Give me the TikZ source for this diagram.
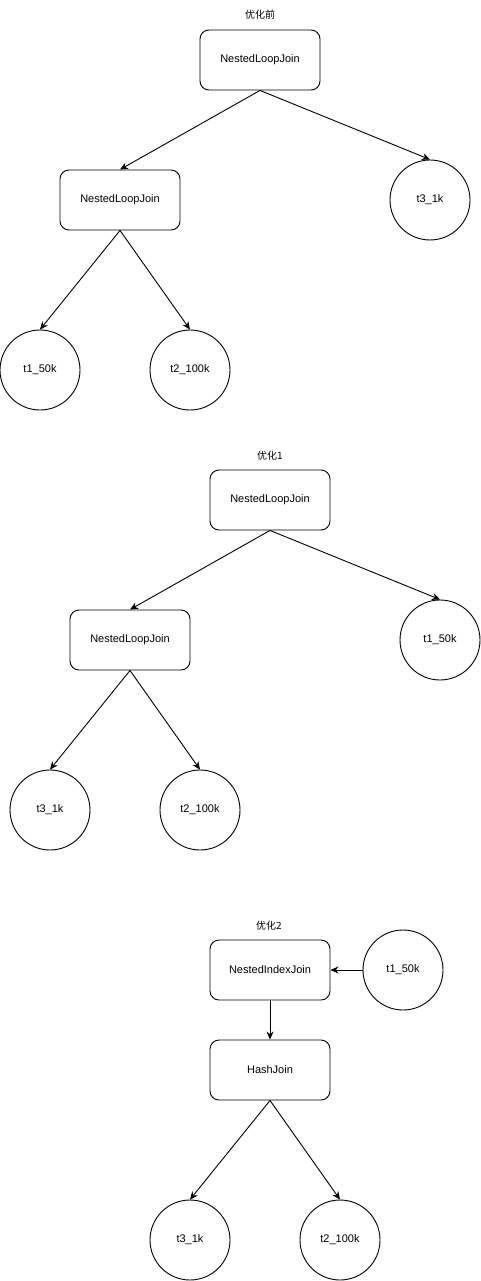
\documentclass[tikz,border=0pt]{standalone}
\usepackage{fontspec}
\setmainfont{Liberation Sans}
\newfontfamily\cjk{Noto Sans CJK SC}
\usepackage{tikz}
\usetikzlibrary{arrows.meta, positioning, shapes}

\begin{document}
\begin{tikzpicture}[x=1pt, y=-1pt,
  every node/.style={font=\fontsize{11}{13}\selectfont},
  op/.style={draw, rounded corners=9pt, minimum width=120pt, minimum height=60pt, inner sep=0pt},
  tbl/.style={draw, circle, minimum size=80pt, inner sep=0pt},
  ttl/.style={font=\cjk\fontsize{10}{12}\selectfont},
  every path/.style={line width=0.9pt},
  >={Stealth[length=8pt, width=7pt]}]

\useasboundingbox (0, 0) rectangle (481, 1281);

% nodes
\node[ttl] (P) at (260, 15) {优化前};
\node[op] (A) at (260, 60) {NestedLoopJoin};
\node[op] (B) at (120, 200) {NestedLoopJoin};
\node[tbl] (C) at (430, 200) {t3\_1k};
\node[tbl] (D) at (40, 370) {t1\_50k};
\node[tbl] (E) at (190, 370) {t2\_100k};

\node[ttl] (P2) at (270, 456) {优化1};
\node[op] (A2) at (270, 500) {NestedLoopJoin};
\node[op] (B2) at (130, 640) {NestedLoopJoin};
\node[tbl] (C2) at (440, 640) {t1\_50k};
\node[tbl] (D2) at (50, 810) {t3\_1k};
\node[tbl] (E2) at (200, 810) {t2\_100k};

\node[ttl] (P3) at (269, 926) {优化2};
\node[op] (A3) at (270, 970) {NestedIndexJoin};
\node[tbl] (C3) at (403, 970) {t1\_50k};
\node[op] (B3) at (270, 1070) {HashJoin};
\node[tbl] (D3) at (190, 1240) {t3\_1k};
\node[tbl] (E3) at (340, 1240) {t2\_100k};

% arrows
\draw [->] (A.south) -- (B.north);
\draw [->] (A.south) -- (C.north);
\draw [->] (B.south) -- (D.north);
\draw [->] (B.south) -- (E.north);

\draw [->] (A2.south) -- (B2.north);
\draw [->] (A2.south) -- (C2.north);
\draw [->] (B2.south) -- (D2.north);
\draw [->] (B2.south) -- (E2.north);

\draw [->] (C3.west) -- (A3.east);
\draw [->] (A3.south) -- (B3.north);
\draw [->] (B3.south) -- (D3.north);
\draw [->] (B3.south) -- (E3.north);

\end{tikzpicture}
\end{document}
